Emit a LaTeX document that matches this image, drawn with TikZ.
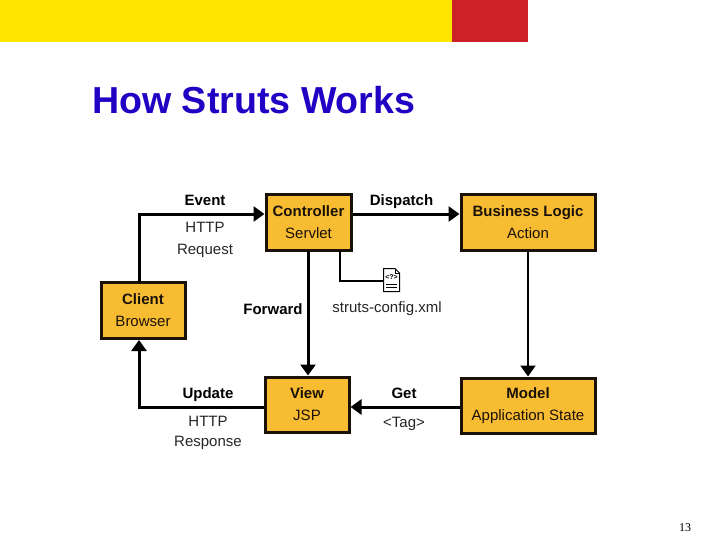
\documentclass[tikz,border=0pt]{standalone}
\usepackage{fontspec}
\setmainfont{Liberation Sans}
\newfontfamily\pagefont{Liberation Serif}
\usetikzlibrary{arrows.meta,positioning}
\definecolor{barY}{HTML}{FFE600}
\definecolor{barR}{HTML}{CE2127}
\definecolor{titleC}{HTML}{2200C4}
\definecolor{boxF}{HTML}{F8BC32}
\definecolor{inkC}{HTML}{1A1208}
\tikzset{
  box/.style={draw=inkC,line width=3pt,fill=boxF,inner sep=0pt,align=center,font=\fontsize{15}{22}\selectfont,text=inkC},
  lab/.style={font=\fontsize{15}{18}\selectfont,text=black!85,inner sep=0pt},
  blab/.style={lab,font=\fontsize{15}{18}\selectfont\bfseries,text=black},
  conn/.style={line width=3pt,draw=black,-{Triangle[length=11pt,width=15pt]}},
  thin conn/.style={line width=2.2pt,draw=black},
}
\begin{document}
\begin{tikzpicture}[x=1pt,y=-1pt]
\useasboundingbox (0,0) rectangle (728,546);
\fill[white] (0,0) rectangle (728,546);
\fill[barY] (0,0) rectangle (452,42);
\fill[barR] (452,0) rectangle (528,42);
\node[anchor=base west,inner sep=0pt,text=titleC,font=\fontsize{37.6}{40}\selectfont\bfseries] (title) at (92,113.5) {How Struts Works};
\node[box,minimum width=84pt,minimum height=56pt] (client) at (143,310) {\textbf{Client}\\Browser};
\node[box,minimum width=85pt,minimum height=56pt] (ctrl) at (308.5,222) {\textbf{Controller}\\Servlet};
\node[box,minimum width=84pt,minimum height=55pt] (view) at (307,404.5) {\textbf{View}\\JSP};
\node[box,minimum width=134pt,minimum height=56pt] (biz) at (528,222) {\textbf{Business Logic}\\Action};
\node[box,minimum width=134pt,minimum height=55pt] (model) at (528,405.5) {\textbf{Model}\\Application State};
% document icon
\node[minimum width=16pt,minimum height=23pt,inner sep=0pt] (doc) at (391.5,280) {};
\draw[line width=1pt,fill=white] (383.5,268.5) -- (395,268.5) -- (399.5,273) -- (399.5,291.5) -- (383.5,291.5) -- cycle;
\draw[line width=.7pt] (395,268.5) -- (395,273) -- (399.5,273);
\node[inner sep=0pt,font=\fontsize{7}{7}\selectfont\bfseries] (docmark) at (391.5,277.5) {<?>};
\draw[line width=.8pt] (386,284.5) -- (397,284.5) (386,287.5) -- (397,287.5);
\coordinate (clientTop) at (139,282);
\coordinate (corner1) at (139,214);
\coordinate (clientBot) at (139,340);
\coordinate (corner2) at (139,407);
\coordinate (ctrlS) at (340,251);
\coordinate (corner3) at (340,281);
\draw[conn] (clientTop) -- (corner1) -- (ctrl.west |- corner1);
\draw[conn] (ctrl.east |- corner1) -- (biz.west |- corner1);
\draw[conn] (308,251) -- (view.north -| 308,0);
\draw[conn,line width=2.2pt] (biz.south) -- (model.north);
\draw[conn] (model.west |- corner2) -- (view.east |- corner2);
\draw[conn] (view.west |- corner2) -- (corner2) -- (clientBot);
\draw[thin conn] (ctrlS) -- (corner3) -- (doc.west |- corner3);
\node[blab] (ev) at (205,200) {Event};
\node[lab] (h1) at (205,227) {HTTP};
\node[lab] (rq) at (205,251) {Request};
\node[blab] (dp) at (401.5,201.5) {Dispatch};
\node[blab] (fw) at (273,309) {Forward};
\node[lab] (sc) at (387,309) {struts-config.xml};
\node[blab] (up) at (208,394.5) {Update};
\node[lab] (h2) at (208,421) {HTTP};
\node[lab] (rs) at (208,443) {Response};
\node[blab] (gt) at (404,393) {Get};
\node[lab] (tg) at (404,424) {<Tag>};
\node[font=\pagefont\fontsize{12}{14}\selectfont,inner sep=0pt] (pg) at (685,528) {13};
\end{tikzpicture}
\end{document}
